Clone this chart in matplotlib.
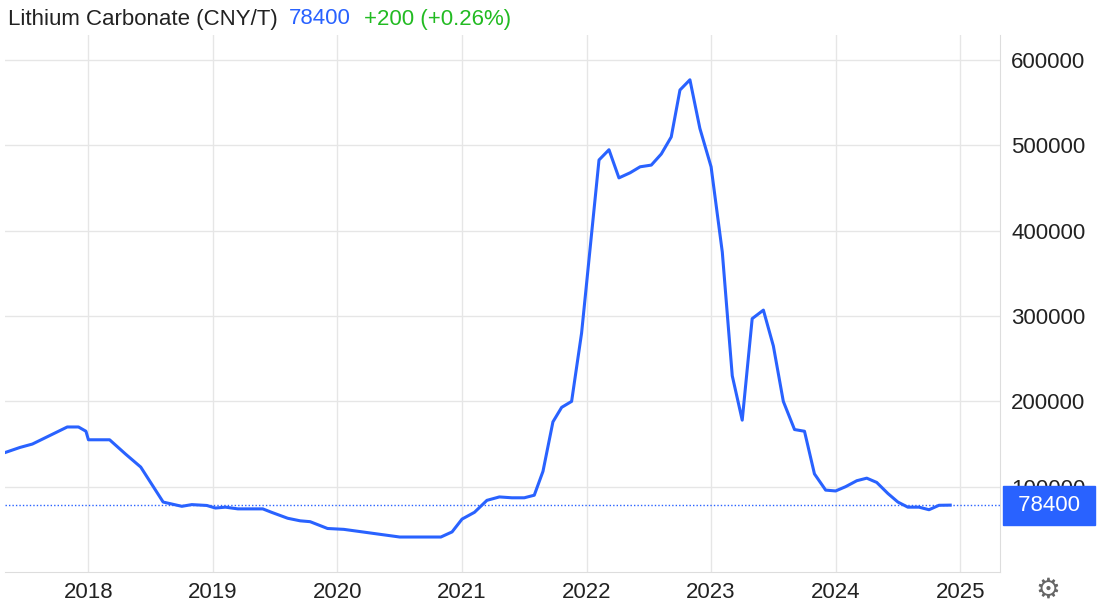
import matplotlib
matplotlib.use("Agg")
import matplotlib.pyplot as plt
plt.rcParams['font.family'] = ['Liberation Sans', 'DejaVu Sans']

dates = [2017.33,2017.45,2017.55,2017.83,2017.92,2017.98,2018.0,2018.17,2018.3,2018.42,2018.6,2018.75,2018.83,2018.95,
 2019.02,2019.1,2019.2,2019.4,2019.47,2019.6,2019.7,2019.78,2019.92,2020.05,2020.2,2020.35,2020.5,2020.7,2020.83,2020.92,
 2021.0,2021.1,2021.2,2021.3,2021.4,2021.5,2021.58,2021.65,2021.73,2021.8,2021.88,2021.96,2022.1,2022.18,2022.26,2022.35,
 2022.43,2022.52,2022.6,2022.68,2022.75,2022.83,2022.91,2023.0,2023.09,2023.17,2023.25,2023.33,2023.42,2023.5,2023.58,
 2023.67,2023.75,2023.83,2023.92,2024.0,2024.08,2024.17,2024.25,2024.33,2024.42,2024.5,2024.58,2024.67,2024.75,2024.83,2024.92]
values = [140000,146000,150000,170000,170000,165000,155000,155000,138000,123000,82000,77000,79000,78000,
 75000,76000,74000,74000,70000,63000,60000,59000,51000,50000,47000,44000,41000,41000,41000,47000,
 62000,70000,84000,88000,87000,87000,90000,118000,176000,193000,200000,280000,483000,495000,462000,468000,
 475000,477000,490000,510000,565000,577000,520000,475000,375000,230000,178000,297000,307000,265000,200000,
 167000,165000,115000,96000,95000,100000,107000,110000,105000,92000,82000,76000,76000,73000,78200,78400]
years = [2018,2019,2020,2021,2022,2023,2024,2025]
yticks = [100000,200000,300000,400000,500000,600000]
last = 78400

blue = "#2962ff"
fs = 16
fig = plt.figure(figsize=(10.98,6.12), dpi=100)
ax = fig.add_axes([5/1098, 40/612, 995/1098, 537/612])
ax.plot(dates, values, color=blue, lw=2.2)
ax.axhline(last, color=blue, lw=1, ls=(0,(1,1.5)))
ax.set_xlim(2017.33, 2025.32)
ax.set_ylim(0, 629500)
ax.set_xticks(years)
ax.set_xticklabels([str(y) for y in years])
ax.set_yticks(yticks)
ax.set_yticklabels([str(v) for v in yticks])
ax.yaxis.tick_right()
ax.tick_params(length=0, labelsize=fs, colors="#222222", pad=7)
ax.tick_params(axis='y', pad=8)
ax.grid(True, color="#e6e6e6", lw=1)
for s in ['top','left']:
    ax.spines[s].set_visible(False)
for s in ['right','bottom']:
    ax.spines[s].set_color("#dddddd")
ax.text(1.012, last, " " + str(last) + " ", transform=ax.get_yaxis_transform(), color="white", fontsize=fs,
        va="center", ha="left", bbox=dict(boxstyle="square,pad=0.4", fc=blue, ec=blue))
fig.text(8/1098, 1-19/612, "Lithium Carbonate (CNY/T)", fontsize=fs, color="#222222", va="center")
fig.text(289/1098, 1-19/612, "78400", fontsize=fs, color=blue, va="center")
fig.text(364/1098, 1-19/612, "+200 (+0.26%)", fontsize=fs, color="#22bb22", va="center")
fig.text(1048/1098, 1-590/612, "⚙", fontsize=20, color="#666666", ha="center", va="center", family="DejaVu Sans")
fig.savefig("out.png", dpi=100)
